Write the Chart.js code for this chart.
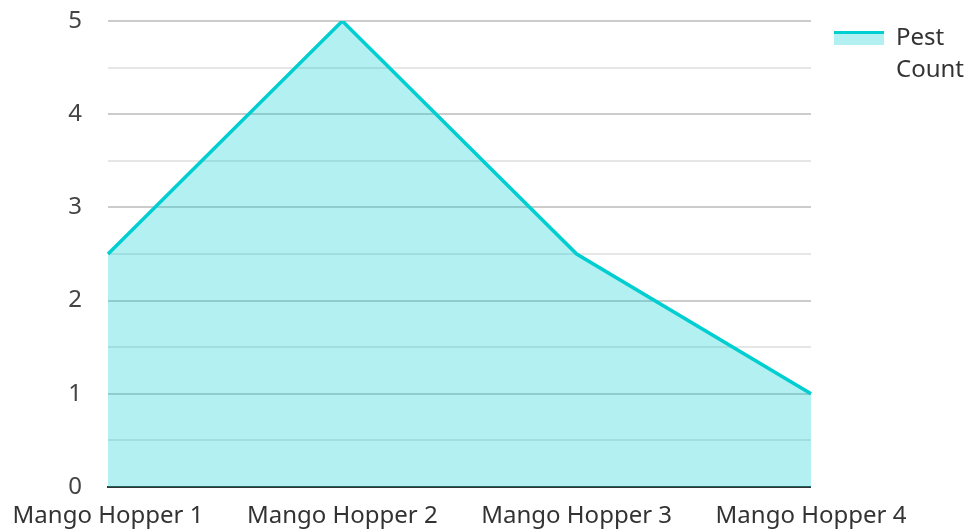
<!DOCTYPE html>
<html>
<head>
<meta charset="utf-8">
<script src="https://cdn.jsdelivr.net/npm/chart.js@4/dist/chart.umd.min.js"></script>
<style>
html,body{margin:0;padding:0;background:#fff;}
#wrap{width:967px;height:531px;position:relative;}
</style>
</head>
<body>
<div id="wrap"><canvas id="c" width="967" height="531"></canvas></div>
<script>
const categories = ['Mango Hopper 1', 'Mango Hopper 2', 'Mango Hopper 3', 'Mango Hopper 4'];
const seriesLabel = 'Pest Count';
const pestCount = [2.5, 5, 2.5, 1];

const lineColor = 'rgb(0,206,209)';
const fillColor = 'rgba(0,206,209,0.3)';

// legend swatch: top line over light fill
const sw = document.createElement('canvas');
sw.width = 50; sw.height = 14;
const sctx = sw.getContext('2d');
sctx.fillStyle = fillColor; sctx.fillRect(0, 0, 50, 14);
sctx.fillStyle = lineColor; sctx.fillRect(0, 0, 50, 3);

Chart.defaults.font.family = '"Noto Sans", "Open Sans", sans-serif';
Chart.defaults.font.size = 24;
Chart.defaults.color = '#444';

const legendShift = {
  id: 'legendShift',
  afterUpdate(chart) {
    const lg = chart.legend;
    if (!lg) return;
    lg.left += 13; lg.right += 13;
    lg.top -= 5; lg.bottom -= 5;
    lg.adjustHitBoxes();
  }
};

new Chart(document.getElementById('c'), {
  type: 'line',
  data: {
    labels: categories,
    datasets: [{
      label: seriesLabel,
      data: pestCount,
      borderColor: lineColor,
      backgroundColor: fillColor,
      borderWidth: 3.5,
      fill: 'origin',
      pointRadius: 0,
      tension: 0
    }]
  },
  plugins: [legendShift],
  options: {
    responsive: false,
    animation: false,
    layout: { padding: { top: 21, right: 6, left: 0, bottom: 0 } },
    plugins: {
      legend: {
        position: 'right',
        align: 'start',
        labels: {
          usePointStyle: true,
          pointStyle: sw,
          pointStyleWidth: 50,
          boxHeight: 14,
          padding: 10,
          font: { size: 24, lineHeight: 1.35 },
          color: '#333',
          generateLabels: (chart) => {
            const items = Chart.defaults.plugins.legend.labels.generateLabels(chart);
            items.forEach(it => { it.text = it.text.split(' '); it.pointStyle = sw; });
            return items;
          }
        }
      },
      tooltip: { enabled: false }
    },
    scales: {
      x: {
        offset: false,
        afterFit: (s) => { s.height = 44; s.paddingTop = 0; s.paddingBottom = 0; s.paddingLeft = 0; },
        grid: { display: false, drawTicks: false },
        border: { display: true, color: '#333', width: 2 },
        ticks: { padding: 15, maxRotation: 0, autoSkip: false, color: '#333' }
      },
      y: {
        min: 0, max: 5,
        afterFit: (s) => { s.width = 108; s.paddingTop = 0; s.paddingBottom = 0; },
        grid: {
          drawTicks: false,
          color: (ctx) => (ctx.tick && Number.isInteger(ctx.tick.value)) ? '#cccccc' : '#e6e6e6',
          lineWidth: 2
        },
        border: { display: false },
        ticks: {
          stepSize: 0.5,
          padding: 26,
          color: '#444',
          callback: (v) => Number.isInteger(v) ? String(v) : ''
        }
      }
    }
  }
});
</script>
</body>
</html>
